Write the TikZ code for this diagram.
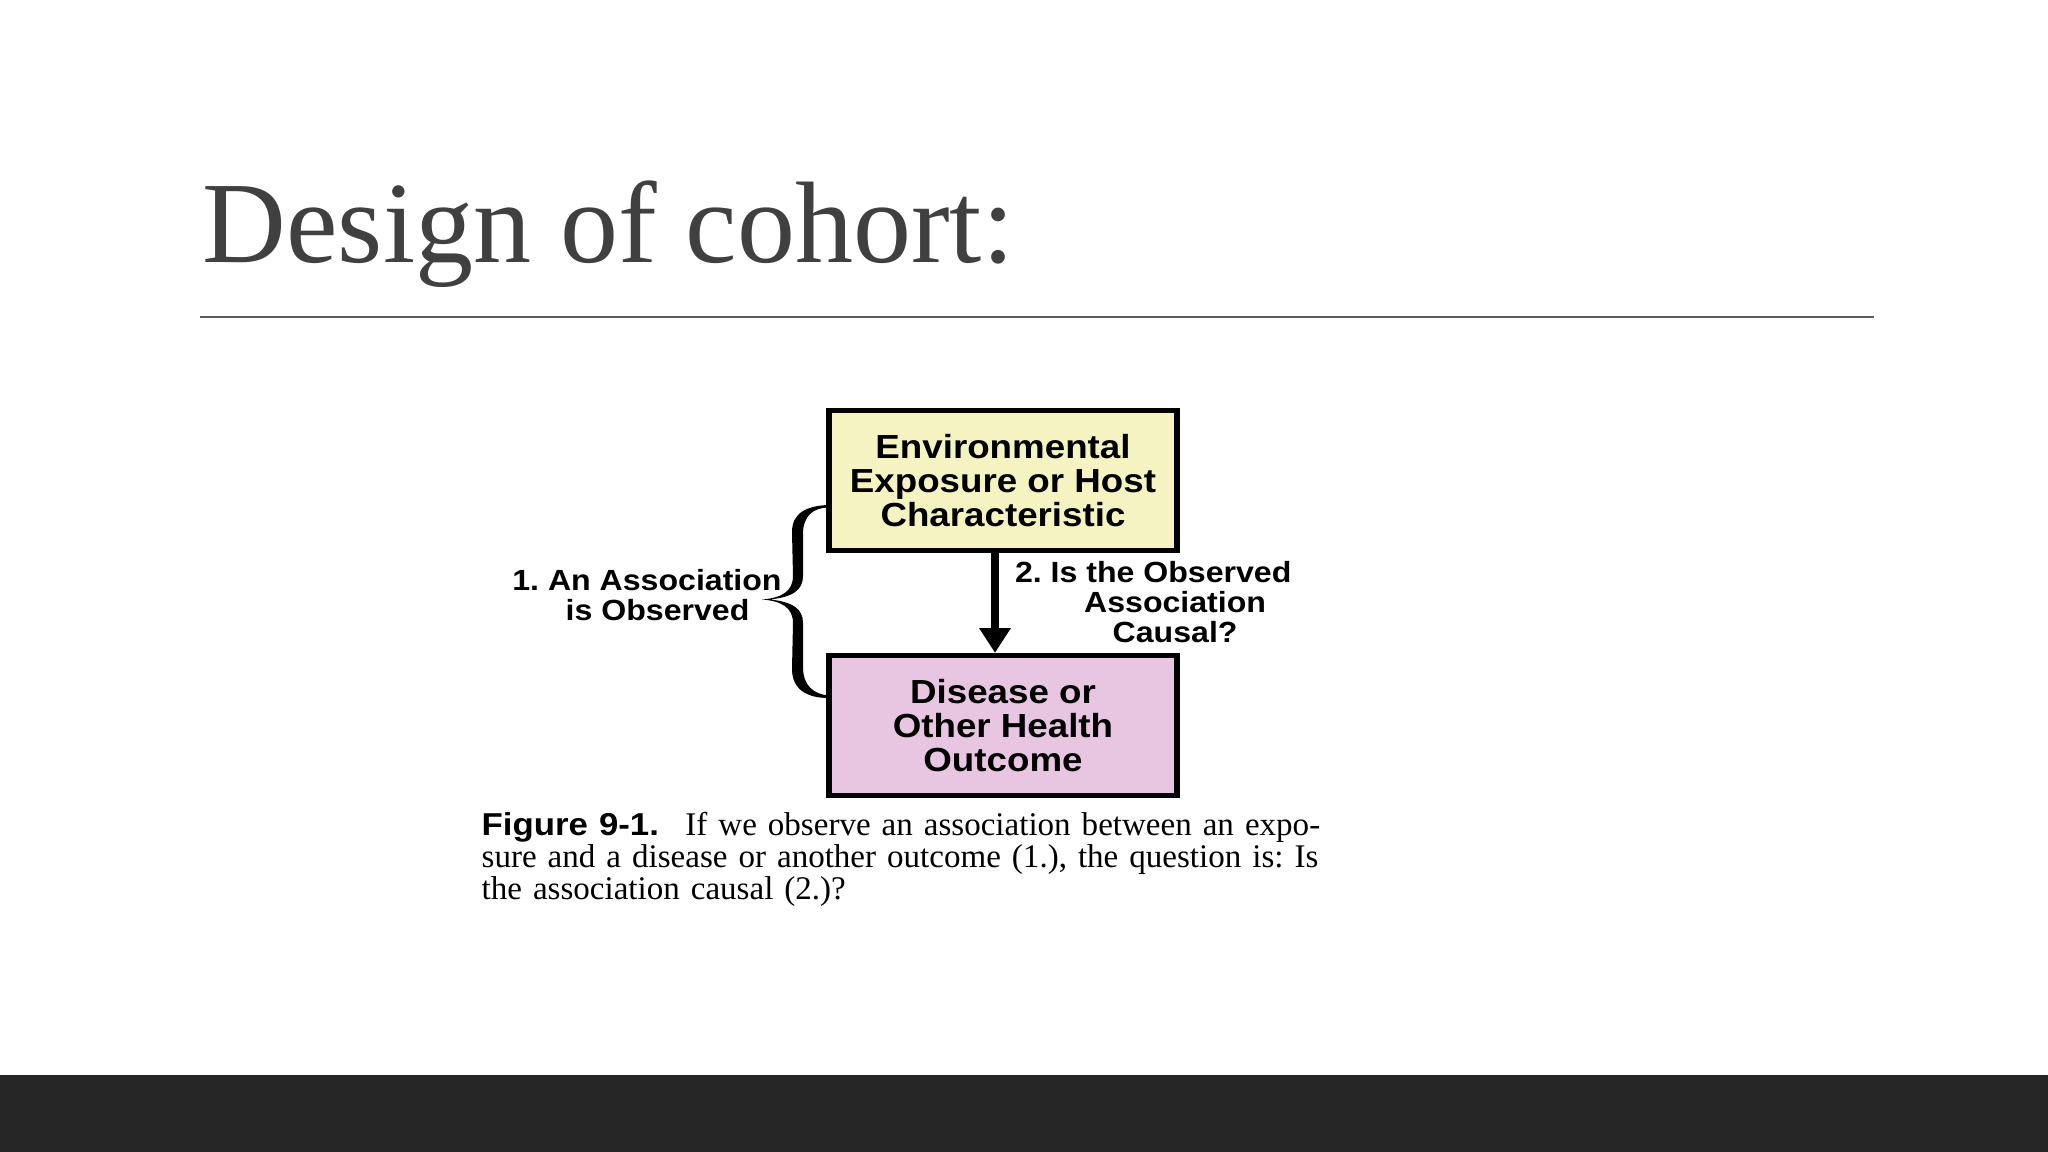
\documentclass[tikz,border=0pt]{standalone}
\usepackage{fontspec}
\setmainfont{Liberation Serif}
\newfontfamily\boxfont{Liberation Sans}[FakeStretch=1.1]
\usetikzlibrary{arrows.meta}
\definecolor{titlegray}{HTML}{404040}
\definecolor{rulegray}{HTML}{595959}
\definecolor{barblack}{HTML}{262626}
\definecolor{expoyellow}{HTML}{F6F3C3}
\definecolor{diseasepink}{HTML}{E8C6E2}
\newcommand*{\CaptionLine}[1]{\makebox[8.47cm][s]{#1}}

\begin{document}
\begin{tikzpicture}[
  box/.style={draw=black, line width=1.5pt, minimum width=3.48cm, minimum height=1.40cm,
    inner sep=0pt, align=center, font=\boxfont\bfseries\fontsize{9.5}{9.7}\selectfont},
  lbl/.style={align=center, inner sep=0pt, font=\boxfont\bfseries\fontsize{8.3}{8.5}\selectfont},
  arr/.style={line width=2.4pt, -{Triangle[width=8.5pt,length=7pt]}}
]
\useasboundingbox (0,0) rectangle (20.48,11.52);
\fill[white] (0,0) rectangle (20.48,11.52);
\fill[barblack] (0,0) rectangle (20.48,0.77);

\node[anchor=base west, inner sep=0pt, text=titlegray, font=\fontsize{33}{38}\selectfont]
  (title) at (2.02,8.89) {Design of cohort:};
\coordinate (ruleL) at (2.00,8.35);
\coordinate (ruleR) at (18.74,8.35);
\draw[rulegray, line width=0.6pt] (ruleL) -- (ruleR);

\node[box, fill=expoyellow] (expo) at (10.03,6.715) {Environmental\\Exposure or Host\\Characteristic};
\node[box, fill=diseasepink] (disease) at (10.03,4.265) {Disease or\\Other Health\\Outcome};
\draw[arr] ([xshift=-0.08cm]expo.south) -- ([xshift=-0.08cm]disease.north);

\fill[black] (8.28,6.47)
  .. controls (8.08,6.46) and (7.92,6.40) .. (7.92,6.20)
  -- (7.93,5.76)
  .. controls (7.93,5.61) and (7.82,5.54) .. (7.62,5.525)
  .. controls (7.82,5.51) and (7.93,5.44) .. (7.93,5.29)
  -- (7.92,4.83)
  .. controls (7.92,4.62) and (8.08,4.54) .. (8.28,4.54)
  -- (8.28,4.565)
  .. controls (8.14,4.58) and (8.03,4.66) .. (8.03,4.85)
  -- (8.03,5.29)
  .. controls (8.03,5.43) and (7.93,5.50) .. (7.70,5.525)
  .. controls (7.93,5.55) and (8.03,5.62) .. (8.03,5.76)
  -- (8.03,6.18)
  .. controls (8.03,6.37) and (8.14,6.44) .. (8.28,6.445)
  -- cycle;

\node[lbl] (observed) at (6.47,5.57) {1.\ An Association\\\hspace*{6pt}is Observed};
\node[lbl] (causal) at (11.62,5.50) {2.\ Is the Observed\hspace*{5pt}\\\hspace*{0.9em}Association\\\hspace*{0.9em}Causal?};

\node[anchor=north west, inner sep=0pt, text width=8.47cm, align=left,
  font=\fontsize{9.4}{9.1}\selectfont\frenchspacing] (caption) at (4.81,3.40)
  {\CaptionLine{{\boxfont\bfseries\fontsize{9}{9}\selectfont Figure 9-1.}\hspace{0.8em}If we observe an association between an expo-}\\
   \CaptionLine{sure and a disease or another outcome (1.), the question is: Is}\\
   the association causal (2.)?};
\end{tikzpicture}
\end{document}
